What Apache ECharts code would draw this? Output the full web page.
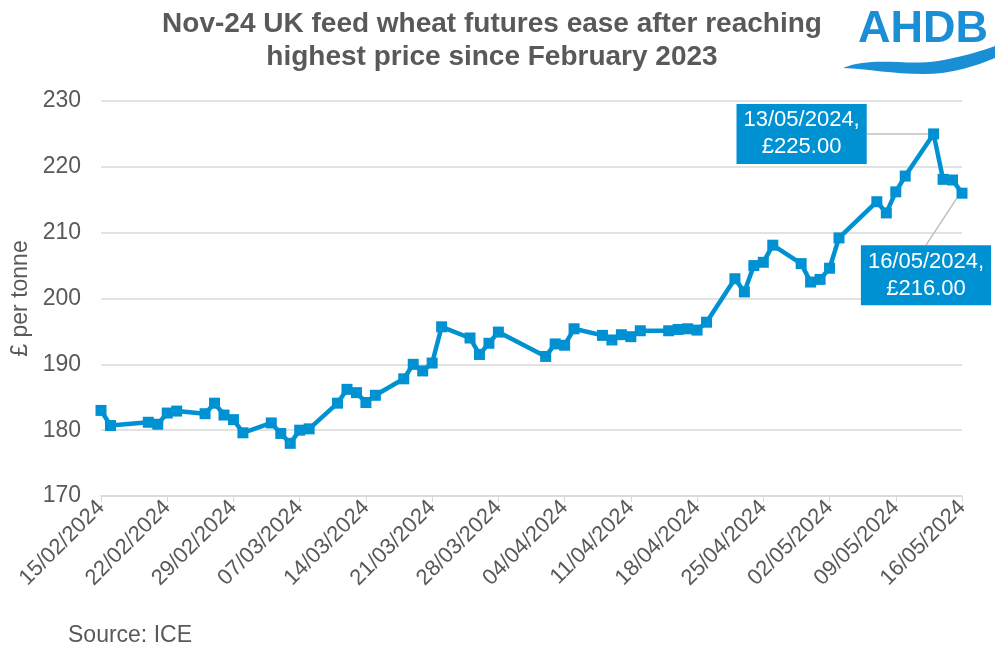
<!DOCTYPE html>
<html>
<head>
<meta charset="utf-8">
<script src="https://cdn.jsdelivr.net/npm/echarts@6/dist/echarts.min.js"></script>
<style>
  html, body { margin: 0; padding: 0; background: #fff; }
  #chart { width: 995px; height: 658px; }
</style>
</head>
<body>
<div id="chart"></div>
<script>
// trading days (19/02, Easter and the May bank holiday have no price)
const dates = [
  '15/02/2024', '16/02/2024', '20/02/2024', '21/02/2024', '22/02/2024', '23/02/2024',
  '26/02/2024', '27/02/2024', '28/02/2024', '29/02/2024', '01/03/2024',
  '04/03/2024', '05/03/2024', '06/03/2024', '07/03/2024', '08/03/2024',
  '11/03/2024', '12/03/2024', '13/03/2024', '14/03/2024', '15/03/2024',
  '18/03/2024', '19/03/2024', '20/03/2024', '21/03/2024', '22/03/2024',
  '25/03/2024', '26/03/2024', '27/03/2024', '28/03/2024',
  '02/04/2024', '03/04/2024', '04/04/2024', '05/04/2024',
  '08/04/2024', '09/04/2024', '10/04/2024', '11/04/2024', '12/04/2024',
  '15/04/2024', '16/04/2024', '17/04/2024', '18/04/2024', '19/04/2024',
  '22/04/2024', '23/04/2024', '24/04/2024', '25/04/2024', '26/04/2024',
  '29/04/2024', '30/04/2024', '01/05/2024', '02/05/2024', '03/05/2024',
  '07/05/2024', '08/05/2024', '09/05/2024', '10/05/2024',
  '13/05/2024', '14/05/2024', '15/05/2024', '16/05/2024'
]
const prices = [
  183.0, 180.7, 181.2, 180.9, 182.6, 182.9,
  182.5, 184.1, 182.3, 181.6, 179.6,
  181.1, 179.5, 178.0, 180.0, 180.2,
  184.1, 186.2, 185.7, 184.2, 185.3,
  187.8, 190.0, 189.0, 190.2, 195.7,
  194.0, 191.5, 193.2, 194.9,
  191.2, 193.1, 192.9, 195.4,
  194.4, 193.7, 194.5, 194.2, 195.1,
  195.1, 195.3, 195.4, 195.2, 196.4,
  203.0, 201.0, 205.0, 205.5, 208.1,
  205.3, 202.5, 202.9, 204.6, 209.2,
  214.7, 213.0, 216.2, 218.6,
  225.0, 218.1, 218.0, 216.0
]
const annotated = ['13/05/2024', '16/05/2024']
const firstDay = '15/02/2024'
const lastDay = '16/05/2024'
const yTicks = [170, 180, 190, 200, 210, 220, 230]

const blue = '#0091d2'
const grey = '#595959'
const font = 'Liberation Sans, Arial, sans-serif'

function parseDay(s) {
  const [d, m, y] = s.split('/').map(Number)
  return new Date(Date.UTC(y, m - 1, d))
}
function fmtDay(t) {
  const p = n => String(n).padStart(2, '0')
  return p(t.getUTCDate()) + '/' + p(t.getUTCMonth() + 1) + '/' + t.getUTCFullYear()
}

// calendar axis, one category per day
const days = []
for (let t = parseDay(firstDay); t <= parseDay(lastDay); t = new Date(t.getTime() + 86400000)) {
  days.push(fmtDay(t))
}

const priceByDay = {}
dates.forEach((d, i) => { priceByDay[d] = prices[i] })

const labelMove = {
  '13/05/2024': { dx: -132, dy: 0 },
  '16/05/2024': { dx: -36, dy: 82 }
}

const seriesData = days.map(d => {
  if (!(d in priceByDay)) return null
  const v = priceByDay[d]
  if (annotated.indexOf(d) < 0) return v
  return {
    value: v,
    label: {
      show: true,
      position: 'inside',
      formatter: d + ',\n£' + v.toFixed(2),
      backgroundColor: blue,
      color: '#fff',
      fontSize: 22,
      lineHeight: 27,
      fontFamily: font,
      padding: [3, 7, 3, 7],
      align: 'center'
    },
    labelLine: { show: true, lineStyle: { color: '#bfbfbf', width: 1.5 } }
  }
})

// logo swoosh as a small inline svg
const wave = 'data:image/svg+xml;charset=utf-8,' + encodeURIComponent(
  '<svg xmlns="http://www.w3.org/2000/svg" width="152" height="34" viewBox="0 0 152 34">' +
  '<path d="M0,26 C30,14 62,24 95,19 C118,15 136,10 152,4 L152,16 C132,24 110,32 80,32 C50,32 25,27 0,26 Z" fill="#1a8fd6"/>' +
  '</svg>')

const chart = echarts.init(document.getElementById('chart'), null, { renderer: 'canvas' })

chart.setOption({
  backgroundColor: '#fff',
  animation: false,
  textStyle: { fontFamily: font },
  grid: { left: 101, right: 33, top: 101, bottom: 162 },
  graphic: [
    {
      type: 'text', x: 492, y: 8,
      style: {
        text: 'Nov-24 UK feed wheat futures ease after reaching\nhighest price since February 2023',
        font: 'bold 28px ' + font, fill: grey, align: 'center', lineHeight: 33
      }
    },
    {
      type: 'text', x: 68, y: 624,
      style: { text: 'Source: ICE', font: '23px ' + font, fill: grey }
    },
    {
      type: 'text', x: 858, y: 7,
      style: { text: 'AHDB', font: 'bold 45px ' + font, fill: '#1a8fd6' }
    },
    {
      type: 'image', x: 843, y: 42,
      style: { image: wave, width: 152, height: 34 }
    }
  ],
  xAxis: {
    type: 'category',
    data: days,
    boundaryGap: false,
    axisLine: { lineStyle: { color: '#d9d9d9', width: 1.5 } },
    axisTick: { interval: 6, length: 6, lineStyle: { color: '#d9d9d9' } },
    axisLabel: { interval: 6, rotate: 45, margin: 8, fontSize: 22, color: grey, fontFamily: font }
  },
  yAxis: {
    type: 'value',
    min: yTicks[0],
    max: yTicks[yTicks.length - 1],
    interval: 10,
    name: '£ per tonne',
    nameLocation: 'middle',
    nameGap: 68,
    nameTextStyle: { fontSize: 23, color: grey, fontFamily: font },
    axisLine: { show: false },
    axisTick: { show: false },
    axisLabel: { fontSize: 23, color: grey, margin: 20, fontFamily: font },
    splitLine: { lineStyle: { color: '#d9d9d9', width: 1.5 } }
  },
  series: [
    {
      type: 'line',
      data: seriesData,
      connectNulls: true,
      symbol: 'rect',
      symbolSize: 11,
      showAllSymbol: true,
      lineStyle: { color: blue, width: 4.5 },
      itemStyle: { color: blue },
      labelLayout: params => labelMove[days[params.dataIndex]] || {}
    }
  ]
})
</script>
</body>
</html>
